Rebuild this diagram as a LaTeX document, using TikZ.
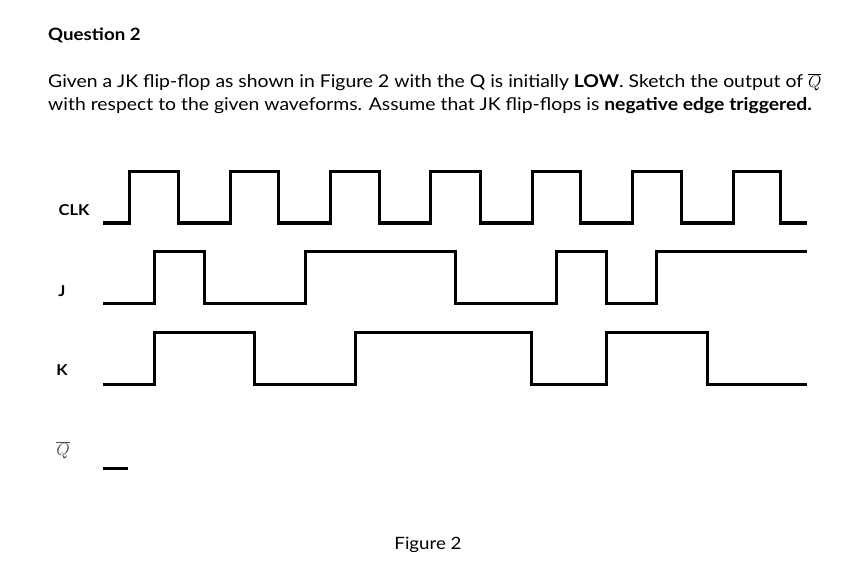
\documentclass[tikz,border=0pt]{standalone}
\usepackage{fontspec}
\setmainfont{Lato}[FakeStretch=1.1]
\begin{document}
\begin{tikzpicture}[x=1pt,y=-1pt,
  wave/.style={line width=3pt,line join=miter},
  txt/.style={anchor=west,inner sep=0pt,font=\fontsize{17.6}{20}\selectfont},
  lbl/.style={anchor=center,inner sep=0pt,font=\bfseries\fontsize{15}{16}\selectfont}]
\useasboundingbox (0,0) rectangle (850,577);
\node[txt,font=\bfseries\fontsize{17}{20}\selectfont] (title) at (48,35) {Question 2};
\node[txt] (l1) at (48,82) {Given a JK flip-flop as shown in Figure 2 with the Q is initially \textbf{LOW}. Sketch the output of $\overline{Q}$};
\node[txt] (l2) at (48,106) {with respect to the given waveforms. Assume that JK flip-flops is \textbf{negative edge triggered.}};
\node[lbl] (clk) at (74,210) {CLK};
\node[lbl] (j) at (62,291) {J};
\node[lbl] (k) at (62,370) {K};
\node[inner sep=0pt,font=\fontsize{18}{20}\selectfont,text=black!70] (qb) at (63,450) {$\overline{Q}$};
\draw[wave] (103,223) -- (129,223)
  \foreach \r/\f in {129/178,230/278,330/379,430/480,532/580,632/681,733/780}{ -- (\r,223) -- (\r,172) -- (\f,172) -- (\f,223)} -- (807,223);
\draw[wave] (103,303) -- (154,303) -- (154,251) -- (204,251) -- (204,303) -- (305,303) -- (305,251) -- (455,251) -- (455,303) -- (556,303) -- (556,251) -- (606,251) -- (606,303) -- (656,303) -- (656,251) -- (807,251);
\draw[wave] (103,384) -- (154,384) -- (154,332) -- (254,332) -- (254,384) -- (355,384) -- (355,332) -- (531,332) -- (531,384) -- (606,384) -- (606,332) -- (707,332) -- (707,384) -- (807,384);
\draw[wave] (103,468) -- (128,468);
\node[inner sep=0pt,font=\fontsize{17}{20}\selectfont] (fig) at (428,545) {Figure 2};
\end{tikzpicture}
\end{document}
